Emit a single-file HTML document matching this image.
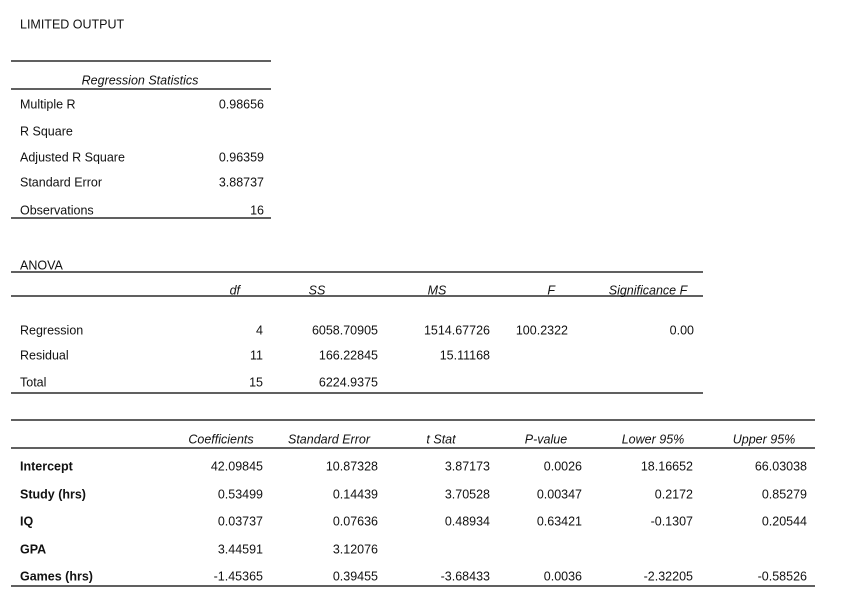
<!DOCTYPE html>
<html><head><meta charset="utf-8"><style>
body{margin:0;background:#fff}
svg{display:block}
text{font-family:"Liberation Sans",Arial,sans-serif;font-size:12.5px;fill:#111;dominant-baseline:middle}
.i{font-style:italic}.b{font-weight:bold}
.r{text-anchor:end}.c{text-anchor:middle}
line{stroke:#000;stroke-width:1.2}
</style></head><body>
<svg width="850" height="601" viewBox="0 0 850 601">
<g transform="translate(0,1)">
<text x="20" y="24">LIMITED OUTPUT</text>
<text x="140" y="80" class="i c">Regression Statistics</text>
<text x="20" y="104">Multiple R</text><text x="264" y="104" class="r">0.98656</text>
<text x="20" y="131">R Square</text>
<text x="20" y="157">Adjusted R Square</text><text x="264" y="157" class="r">0.96359</text>
<text x="20" y="182">Standard Error</text><text x="264" y="182" class="r">3.88737</text>
<text x="20" y="210">Observations</text><text x="264" y="210" class="r">16</text>

<text x="20" y="265">ANOVA</text>
<text x="240" y="290" class="i r">df</text>
<text x="317" y="290" class="i c">SS</text>
<text x="437" y="290" class="i c">MS</text>
<text x="555" y="290" class="i r">F</text>
<text x="648" y="290" class="i c">Significance F</text>
<text x="20" y="330">Regression</text><text x="263" y="330" class="r">4</text><text x="378" y="330" class="r">6058.70905</text><text x="490" y="330" class="r">1514.67726</text><text x="568" y="330" class="r">100.2322</text><text x="694" y="330" class="r">0.00</text>
<text x="20" y="355">Residual</text><text x="263" y="355" class="r">11</text><text x="378" y="355" class="r">166.22845</text><text x="490" y="355" class="r">15.11168</text>
<text x="20" y="382">Total</text><text x="263" y="382" class="r">15</text><text x="378" y="382" class="r">6224.9375</text>

<text x="221" y="439" class="i c">Coefficients</text>
<text x="329" y="439" class="i c">Standard Error</text>
<text x="441" y="439" class="i c">t Stat</text>
<text x="546" y="439" class="i c">P-value</text>
<text x="653" y="439" class="i c">Lower 95%</text>
<text x="764" y="439" class="i c">Upper 95%</text>
<text x="20" y="466" class="b">Intercept</text><text x="263" y="466" class="r">42.09845</text><text x="378" y="466" class="r">10.87328</text><text x="490" y="466" class="r">3.87173</text><text x="582" y="466" class="r">0.0026</text><text x="693" y="466" class="r">18.16652</text><text x="807" y="466" class="r">66.03038</text>
<text x="20" y="494" class="b">Study (hrs)</text><text x="263" y="494" class="r">0.53499</text><text x="378" y="494" class="r">0.14439</text><text x="490" y="494" class="r">3.70528</text><text x="582" y="494" class="r">0.00347</text><text x="693" y="494" class="r">0.2172</text><text x="807" y="494" class="r">0.85279</text>
<text x="20" y="521" class="b">IQ</text><text x="263" y="521" class="r">0.03737</text><text x="378" y="521" class="r">0.07636</text><text x="490" y="521" class="r">0.48934</text><text x="582" y="521" class="r">0.63421</text><text x="693" y="521" class="r">-0.1307</text><text x="807" y="521" class="r">0.20544</text>
<text x="20" y="549" class="b">GPA</text><text x="263" y="549" class="r">3.44591</text><text x="378" y="549" class="r">3.12076</text>
<text x="20" y="576" class="b">Games (hrs)</text><text x="263" y="576" class="r">-1.45365</text><text x="378" y="576" class="r">0.39455</text><text x="490" y="576" class="r">-3.68433</text><text x="582" y="576" class="r">0.0036</text><text x="693" y="576" class="r">-2.32205</text><text x="807" y="576" class="r">-0.58526</text>
</g>
<line x1="11" y1="61" x2="271" y2="61"/>
<line x1="11" y1="89" x2="271" y2="89"/>
<line x1="11" y1="218" x2="271" y2="218"/>
<line x1="11" y1="272" x2="703" y2="272"/>
<line x1="11" y1="296" x2="703" y2="296"/>
<line x1="11" y1="393" x2="703" y2="393"/>
<line x1="11" y1="420" x2="815" y2="420"/>
<line x1="11" y1="448" x2="815" y2="448"/>
<line x1="11" y1="586" x2="815" y2="586"/>
</svg>
</body></html>
